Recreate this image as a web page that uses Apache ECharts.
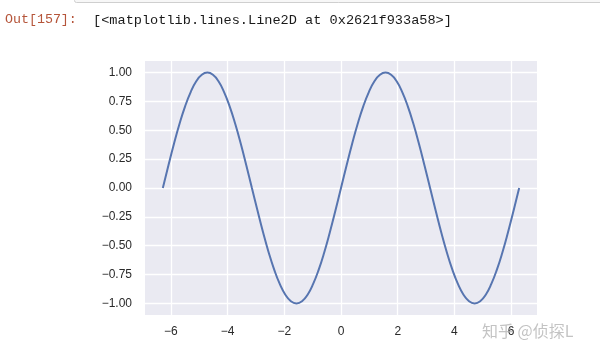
<!DOCTYPE html>
<html>
<head>
<meta charset="utf-8">
<script src="https://cdn.jsdelivr.net/npm/echarts@6/dist/echarts.min.js"></script>
<style>
html,body{margin:0;padding:0;background:#ffffff;}
#chart{width:600px;height:351px;}
</style>
</head>
<body>
<div id="chart"></div>
<script>
const xValues = [-6.283,-6.087,-5.890,-5.694,-5.498,-5.301,-5.105,-4.909,-4.712,-4.516,-4.320,-4.123,-3.927,-3.731,-3.534,-3.338,-3.142,-2.945,-2.749,-2.553,-2.356,-2.160,-1.963,-1.767,-1.571,-1.374,-1.178,-0.982,-0.785,-0.589,-0.393,-0.196,0,0.196,0.393,0.589,0.785,0.982,1.178,1.374,1.571,1.767,1.963,2.160,2.356,2.553,2.749,2.945,3.142,3.338,3.534,3.731,3.927,4.123,4.320,4.516,4.712,4.909,5.105,5.301,5.498,5.694,5.890,6.087,6.283];
const yValues = [0,0.195,0.383,0.556,0.707,0.831,0.924,0.981,1,0.981,0.924,0.831,0.707,0.556,0.383,0.195,0,-0.195,-0.383,-0.556,-0.707,-0.831,-0.924,-0.981,-1,-0.981,-0.924,-0.831,-0.707,-0.556,-0.383,-0.195,0,0.195,0.383,0.556,0.707,0.831,0.924,0.981,1,0.981,0.924,0.831,0.707,0.556,0.383,0.195,0,-0.195,-0.383,-0.556,-0.707,-0.831,-0.924,-0.981,-1,-0.981,-0.924,-0.831,-0.707,-0.556,-0.383,-0.195,0];
const xTicks = [-6,-4,-2,0,2,4,6];
const yTicks = [-1.00,-0.75,-0.50,-0.25,0.00,0.25,0.50,0.75,1.00];
const promptText = 'Out[157]:';
const outputText = '[<matplotlib.lines.Line2D at 0x2621f933a58>]';
const watermarkText = '知乎 @侦探L';

const points = xValues.map((x, i) => [x, yValues[i]]);
const minus = s => s.replace('-', '\u2212');

const chart = echarts.init(document.getElementById('chart'), null, {renderer: 'canvas'});
chart.setOption({
  animation: false,
  backgroundColor: '#ffffff',
  grid: {left: 145, top: 61, right: 63, bottom: 36, show: true, backgroundColor: '#EAEAF2', borderWidth: 0},
  xAxis: {
    type: 'value', min: -6.912, max: 6.912,
    axisLine: {show: false}, axisTick: {show: false, customValues: xTicks},
    splitLine: {show: true, lineStyle: {color: '#ffffff', width: 1.3}},
    axisLabel: {customValues: xTicks, color: '#2a2a2a', fontFamily: 'Liberation Sans, Arial', fontSize: 12, margin: 11,
      formatter: v => minus(String(Math.round(v)))}
  },
  yAxis: {
    type: 'value', min: -1.1, max: 1.1,
    axisLine: {show: false}, axisTick: {show: false, customValues: yTicks},
    splitLine: {show: true, lineStyle: {color: '#ffffff', width: 1.3}},
    axisLabel: {customValues: yTicks, color: '#2a2a2a', fontFamily: 'Liberation Sans, Arial', fontSize: 12, margin: 13,
      formatter: v => minus(v.toFixed(2))}
  },
  series: [{
    type: 'line', data: points, showSymbol: false, smooth: true,
    lineStyle: {color: '#5775B0', width: 2}
  }],
  graphic: [
    {type: 'rect', left: 74, top: -10, shape: {width: 540, height: 12, r: 2}, style: {fill: '#f7f7f7', stroke: '#cfcfcf', lineWidth: 1}},
    {type: 'text', left: 5, top: 13, style: {text: promptText, fill: '#B5553A', font: '13.3px "Liberation Mono", monospace'}},
    {type: 'text', left: 93, top: 13, style: {text: outputText, fill: '#1a1a1a', font: '13.6px "Liberation Mono", monospace'}},
    {type: 'text', left: 482, top: 323, z: 100, style: {text: watermarkText, fill: 'rgba(175,175,175,0.75)', font: '16px "Noto Sans CJK SC", sans-serif'}}
  ]
});
</script>
</body>
</html>
